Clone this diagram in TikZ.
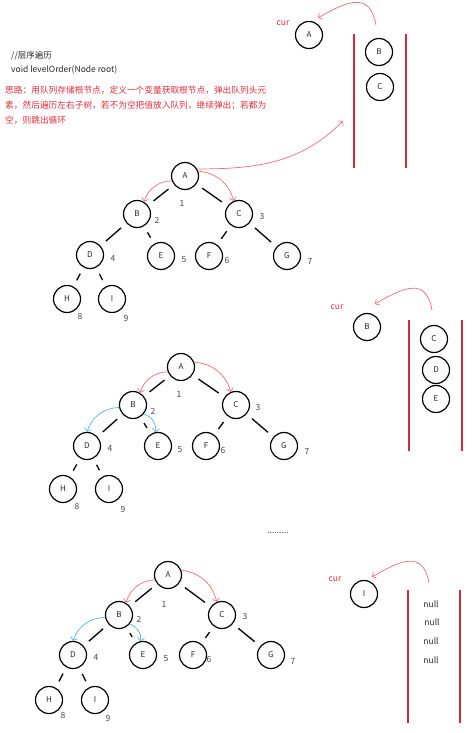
\documentclass[tikz,border=0pt]{standalone}
\usepackage{fontspec}
\setmainfont{Noto Sans CJK SC}
\usetikzlibrary{arrows.meta}

\definecolor{notered}{RGB}{226,44,58}
\definecolor{queuered}{RGB}{206,44,62}
\definecolor{arrowpink}{RGB}{236,110,122}
\definecolor{arrowblue}{RGB}{90,182,222}
\definecolor{codegray}{RGB}{40,40,40}
\definecolor{numgray}{RGB}{70,70,70}

\tikzset{
  vertex/.style={draw, circle, line width=1.2pt, minimum size=27pt, inner sep=0pt, text=codegray, font=\fontsize{8}{8}\selectfont},
  idx/.style={inner sep=0pt, text=numgray, font=\fontsize{8.5}{8.5}\selectfont},
  edge/.style={line width=1.3pt, shorten <=7pt, shorten >=7pt},
  redarrow/.style={arrowpink, line width=0.7pt, -{Straight Barb[length=3pt,width=7pt]}},
  bluearrow/.style={arrowblue, line width=0.7pt, -{Straight Barb[length=3pt,width=7pt]}},
  queue/.style={queuered, line width=1.5pt},
  curlabel/.style={inner sep=0pt, text=notered, font=\fontsize{8.5}{8.5}\selectfont},
  codeline/.style={anchor=base west, inner sep=0pt, text=codegray, font=\fontsize{8.5}{8.5}\selectfont},
  noteline/.style={anchor=base west, inner sep=0pt, text=notered, font=\fontsize{8.7}{8.7}\selectfont},
  nullitem/.style={inner sep=0pt, text=codegray, font=\fontsize{8.5}{8.5}\selectfont}
}

\begin{document}
\begin{tikzpicture}[x=1pt, y=-1pt]
    \useasboundingbox (0,0) rectangle (474,733);

    % code and idea
    \node (comment) [codeline] at (11,59) {//层序遍历};
    \node (signature) [codeline] at (11,73) {void levelOrder(Node root)};
    \node (idea1) [noteline] at (5,94) {思路：用队列存储根节点，定义一个变量获取根节点，弹出队列头元};
    \node (idea2) [noteline] at (5,109) {素，然后遍历左右子树，若不为空把值放入队列，继续弹出；若都为};
    \node (idea3) [noteline] at (5,123.5) {空，则跳出循环};

    % first queue
    \node (cur1) [curlabel] at (283,23) {cur};
    \node (qa1) [vertex] at (309,35) {A};
    \node (qb1) [vertex] at (379,52) {B};
    \node (qc1) [vertex] at (380,87) {C};
    \draw [queue] (354,34) -- (354,168);
    \draw [queue] (406,34) -- (406,168);
    \coordinate (pop1) at (376,25);
    \coordinate (push1) at (343,121);
    \draw [redarrow] (pop1) to[out=100, in=30, looseness=1.5] ([shift={(9,-3)}]qa1.north);

    % tree 1
    \node (a1) [vertex] at (185,176) {A};
    \node (b1) [vertex] at (137,214) {B};
    \node (c1) [vertex] at (239,214) {C};
    \node (d1) [vertex] at (90,255) {D};
    \node (e1) [vertex] at (161,256) {E};
    \node (f1) [vertex] at (209,256) {F};
    \node (g1) [vertex] at (287,256) {G};
    \node (h1) [vertex] at (67,299) {H};
    \node (i1) [vertex] at (112,299) {I};
    \node (a1n) [idx] at (182,203) {1};
    \node (b1n) [idx] at (157,220) {2};
    \node (c1n) [idx] at (262,216) {3};
    \node (d1n) [idx] at (113,258) {4};
    \node (e1n) [idx] at (184,260) {5};
    \node (f1n) [idx] at (227,260) {6};
    \node (g1n) [idx] at (310,261) {7};
    \node (h1n) [idx] at (80,316) {8};
    \node (i1n) [idx] at (126,318) {9};
    \draw [edge] (a1) -- (b1);
    \draw [edge] (a1) -- (c1);
    \draw [edge] (b1) -- (d1);
    \draw [edge] (b1) -- (e1);
    \draw [edge] (c1) -- (f1);
    \draw [edge] (c1) -- (g1);
    \draw [edge] (d1) -- (h1);
    \draw [edge] (d1) -- (i1);
    \draw [redarrow] (a1.200) to[bend right=35] (b1.60);
    \draw [redarrow] (a1.20) to[bend left=35] (c1.112);
    \draw [redarrow] (a1.30) to[out=0, in=225] (push1);

    % second queue
    \node (cur2) [curlabel] at (337,307) {cur};
    \node (qb2) [vertex] at (367,327) {B};
    \node (qc2) [vertex] at (434,339) {C};
    \node (qd2) [vertex] at (436,370) {D};
    \node (qe2) [vertex] at (436,399) {E};
    \draw [queue] (409,320) -- (409,451);
    \draw [queue] (462,320) -- (462,451);
    \coordinate (pop2) at (432,310);
    \draw [redarrow] (pop2) to[out=100, in=30, looseness=1.5] ([shift={(8,-9)}]qb2.north);

    % tree 2
    \node (a2) [vertex] at (181,367) {A};
    \node (b2) [vertex] at (133,405) {B};
    \node (c2) [vertex] at (236,405) {C};
    \node (d2) [vertex] at (87,446) {D};
    \node (e2) [vertex] at (158,446) {E};
    \node (f2) [vertex] at (206,446) {F};
    \node (g2) [vertex] at (284,446) {G};
    \node (h2) [vertex] at (63,489) {H};
    \node (i2) [vertex] at (109,489) {I};
    \node (a2n) [idx] at (179,394) {1};
    \node (b2n) [idx] at (153,411) {2};
    \node (c2n) [idx] at (258,407) {3};
    \node (d2n) [idx] at (110,448) {4};
    \node (e2n) [idx] at (180,450) {5};
    \node (f2n) [idx] at (223,450) {6};
    \node (g2n) [idx] at (307,451) {7};
    \node (h2n) [idx] at (77,506) {8};
    \node (i2n) [idx] at (123,509) {9};
    \draw [edge] (a2) -- (b2);
    \draw [edge] (a2) -- (c2);
    \draw [edge] (b2) -- (d2);
    \draw [edge] (b2) -- (e2);
    \draw [edge] (c2) -- (f2);
    \draw [edge] (c2) -- (g2);
    \draw [edge] (d2) -- (h2);
    \draw [edge] (d2) -- (i2);
    \draw [redarrow] (a2.200) to[bend right=35] (b2.60);
    \draw [redarrow] (a2.20) to[bend left=35] (c2.112);
    \draw [bluearrow] (b2.190) to[bend right=35] (d2.north);
    \draw [bluearrow] (b2.-40) to[bend left=40] (e2.100);

    \node (gap) [idx] at (278,533) {.........};

    % third queue
    \node (cur3) [curlabel] at (335,579) {cur};
    \node (qi3) [vertex] at (364,594) {I};
    \draw [queue] (408,590) -- (408,723);
    \draw [queue] (460,590) -- (460,723);
    \node (null1) [nullitem] at (431,604) {null};
    \node (null2) [nullitem] at (432,622) {null};
    \node (null3) [nullitem] at (431,641) {null};
    \node (null4) [nullitem] at (431,660) {null};
    \coordinate (pop3) at (429,583);
    \draw [redarrow] (pop3) to[out=100, in=30, looseness=1.5] ([shift={(8,-3)}]qi3.north);

    % tree 3
    \node (a3) [vertex] at (168,575) {A};
    \node (b3) [vertex] at (119,615) {B};
    \node (c3) [vertex] at (222,615) {C};
    \node (d3) [vertex] at (73,655) {D};
    \node (e3) [vertex] at (143,655) {E};
    \node (f3) [vertex] at (193,655) {F};
    \node (g3) [vertex] at (271,655) {G};
    \node (h3) [vertex] at (49,700) {H};
    \node (i3) [vertex] at (95,700) {I};
    \node (a3n) [idx] at (164,604) {1};
    \node (b3n) [idx] at (139,619) {2};
    \node (c3n) [idx] at (245,616) {3};
    \node (d3n) [idx] at (96,657) {4};
    \node (e3n) [idx] at (166,659) {5};
    \node (f3n) [idx] at (209,659) {6};
    \node (g3n) [idx] at (293,661) {7};
    \node (h3n) [idx] at (63,715) {8};
    \node (i3n) [idx] at (108,718) {9};
    \draw [edge] (a3) -- (b3);
    \draw [edge] (a3) -- (c3);
    \draw [edge] (b3) -- (d3);
    \draw [edge] (b3) -- (e3);
    \draw [edge] (c3) -- (f3);
    \draw [edge] (c3) -- (g3);
    \draw [edge] (d3) -- (h3);
    \draw [edge] (d3) -- (i3);
    \draw [redarrow] (a3.200) to[bend right=35] (b3.60);
    \draw [redarrow] (a3.20) to[bend left=35] (c3.112);
    \draw [bluearrow] (b3.190) to[bend right=35] (d3.north);
    \draw [bluearrow] (b3.-40) to[bend left=40] (e3.100);
\end{tikzpicture}
\end{document}
